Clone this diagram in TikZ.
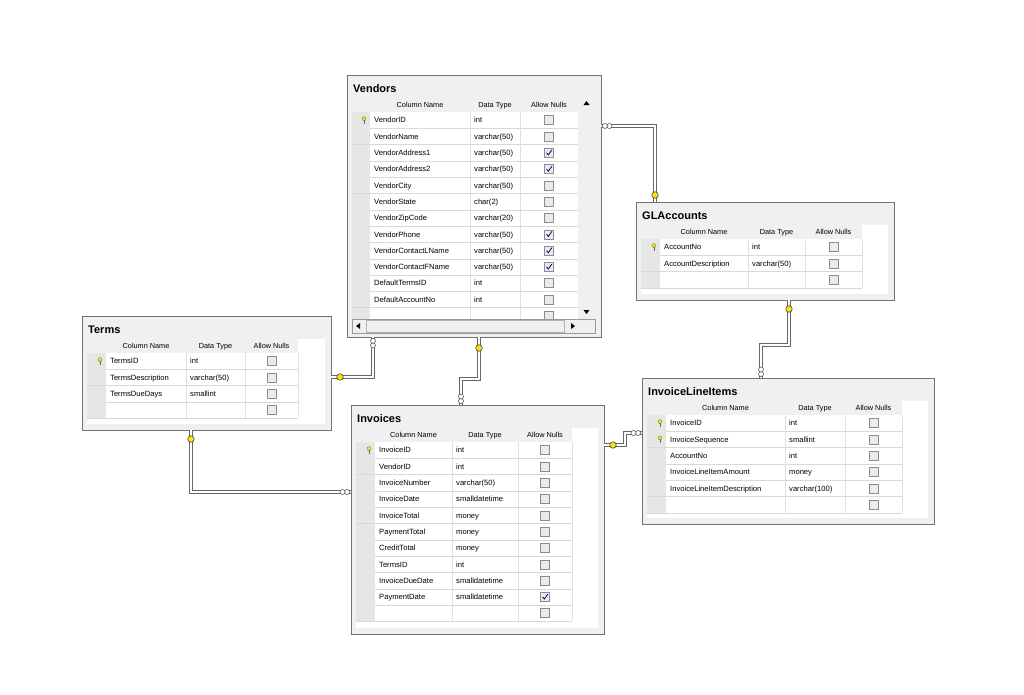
\documentclass[tikz,border=0pt]{standalone}
\usepackage{fontspec}
\setmainfont{Liberation Sans}
\usetikzlibrary{fit}
\definecolor{panelbg}{HTML}{F0F0F0}
\definecolor{cellgray}{HTML}{E6E6E6}
\tikzset{
  panel/.style={draw=black!55, fill=panelbg, line width=0.9pt, inner sep=0pt},
  cell/.style={font=\fontsize{7.6}{8}\selectfont, anchor=base west, inner sep=0pt},
  hdr/.style={font=\fontsize{7.3}{8}\selectfont, anchor=base, inner sep=0pt},
  ttl/.style={font=\bfseries\fontsize{11}{12}\selectfont, anchor=west, inner sep=0pt},
  conn/.style={draw=black!60, double=white, double distance=1.4pt, line width=1pt},
  fkey/.style={circle, draw=black!70, fill=yellow!85!orange, minimum size=6.5pt, inner sep=0pt, line width=0.6pt},
  inf/.style={circle, draw=black!65, fill=white, minimum size=5pt, inner sep=0pt, line width=0.6pt},
}
\newcommand\rowkey[2]{\fill[yellow!85!orange, draw=black!60, line width=0.3pt] (#1,#2-1.5) circle (2pt);
  \draw[black!60, line width=0.9pt] (#1,#2) -- (#1,#2+3.8);}
\newcommand\dbtab[9]{%
  \node[panel, fit={(#3,#4)(#5,#6)}] (#1) {};
  \node[ttl] at (#3+6,#4+14) {#2};
  \fill[white] (#3+5,#4+23) rectangle (#5-6,#6-6);
  \fill[cellgray!60] (#3+5,#4+23) rectangle (\cD,#4+37);
  \node[hdr] at ({(#7+#8)/2},#4+32.5) {Column Name};
  \node[hdr] at ({(#8+#9)/2},#4+32.5) {Data Type};
  \node[hdr] at ({(#9+\cD)/2},#4+32.5) {Allow Nulls};
  \foreach \kk/\nm/\ty/\ck [count=\i] in \rows {
    \pgfmathsetmacro\yt{#4+37+(\i-1)*16.3}
    \pgfmathsetmacro\yc{\yt+8.15}
    \fill[cellgray] (#3+5,\yt) rectangle (#7,\yt+16.3);
    \draw[black!15] (#3+5,\yt+16.3) -- (\cD,\yt+16.3);
    \draw[black!12] (#8,\yt) -- (#8,\yt+16.3) (#9,\yt) -- (#9,\yt+16.3) (\cD,\yt) -- (\cD,\yt+16.3);
    \ifnum\kk=1 \rowkey{#7-6}{\yc}\fi
    \node[cell] at (#7+4,\yc+2.8) {\nm};
    \node[cell] at (#8+4,\yc+2.8) {\ty};
    \pgfmathsetmacro\cx{(#9+\cD)/2}
    \draw[black!45, fill=black!8] (\cx-4.5,\yc-4.5) rectangle (\cx+4.5,\yc+4.5);
    \ifnum\ck=1 \draw[blue!60!black, line width=0.8pt] (\cx-2.5,\yc) -- (\cx-0.7,\yc+2.2) -- (\cx+2.8,\yc-2.8);\fi
  }
}
\begin{document}
\begin{tikzpicture}[x=1pt,y=-1pt]
\useasboundingbox (0,0) rectangle (1024,694);
\fill[white] (0,0) rectangle (1024,694);

% Vendors
\def\cD{578}
\def\rows{1/VendorID/int/0, 0/VendorName/varchar(50)/0, 0/VendorAddress1/varchar(50)/1, 0/VendorAddress2/varchar(50)/1, 0/VendorCity/varchar(50)/0, 0/VendorState/char(2)/0, 0/VendorZipCode/varchar(20)/0, 0/VendorPhone/varchar(50)/1, 0/VendorContactLName/varchar(50)/1, 0/VendorContactFName/varchar(50)/1, 0/DefaultTermsID/int/0, 0/DefaultAccountNo/int/0, 0/{}/{}/0}
\dbtab{vendors}{Vendors}{347}{75}{601}{337}{370}{470}{520}
\fill[white] (352,319) rectangle (596,333);
\fill[panelbg] (578,98) rectangle (595,319);
\fill[panelbg] (352,319) rectangle (595,333);
\draw[black!40] (352,319) rectangle (595,333);
\draw[black!30] (366,320) rectangle (564,332);
\fill[black] (356,326) -- (360,323) -- (360,329) -- cycle;
\fill[black] (575,326) -- (571,323) -- (571,329) -- cycle;
\fill[black] (586.5,101) -- (583.5,105) -- (589.5,105) -- cycle;
\fill[black] (586.5,314) -- (583.5,310) -- (589.5,310) -- cycle;

% Terms
\def\cD{298}
\def\rows{1/TermsID/int/0, 0/TermsDescription/varchar(50)/0, 0/TermsDueDays/smallint/0, 0/{}/{}/0}
\dbtab{terms}{Terms}{82}{316}{331}{430}{106}{186}{245}

% Invoices
\def\cD{572}
\def\rows{1/InvoiceID/int/0, 0/VendorID/int/0, 0/InvoiceNumber/varchar(50)/0, 0/InvoiceDate/smalldatetime/0, 0/InvoiceTotal/money/0, 0/PaymentTotal/money/0, 0/CreditTotal/money/0, 0/TermsID/int/0, 0/InvoiceDueDate/smalldatetime/0, 0/PaymentDate/smalldatetime/1, 0/{}/{}/0}
\dbtab{invoices}{Invoices}{351}{405}{604}{634}{375}{452}{518}

% GLAccounts
\def\cD{862}
\def\rows{1/AccountNo/int/0, 0/AccountDescription/varchar(50)/0, 0/{}/{}/0}
\dbtab{glaccounts}{GLAccounts}{636}{202}{894}{300}{660}{748}{805}

% InvoiceLineItems
\def\cD{902}
\def\rows{1/InvoiceID/int/0, 1/InvoiceSequence/smallint/0, 0/AccountNo/int/0, 0/InvoiceLineItemAmount/money/0, 0/InvoiceLineItemDescription/varchar(100)/0, 0/{}/{}/0}
\dbtab{ili}{InvoiceLineItems}{642}{378}{934}{524}{666}{785}{845}

% connector endpoints
\coordinate (v1) at (601,126); \coordinate (g1) at (655,202);
\coordinate (v2) at (373,337); \coordinate (t2) at (331,377);
\coordinate (v3) at (479,337); \coordinate (i3) at (461,405);
\coordinate (t4) at (191,430); \coordinate (i4) at (351,492);
\coordinate (g5) at (789,300); \coordinate (l5) at (761,378);
\coordinate (i6) at (604,445); \coordinate (l6) at (642,433);

\draw[conn] (v1) -- (655,126) -- (g1);
\draw[conn] (v2) -- (373,377) -- (t2);
\draw[conn] (v3) -- (479,379) -- (461,379) -- (i3);
\draw[conn] (t4) -- (191,492) -- (i4);
\draw[conn] (g5) -- (789,345) -- (761,345) -- (l5);
\draw[conn] (i6) -- (625,445) -- (625,433) -- (l6);

% end symbols
\node[inf] at (605,126) {}; \node[inf] at (609.5,126) {};
\node[fkey] at (655,195) {};
\node[inf] at (373,341) {}; \node[inf] at (373,345.5) {};
\node[fkey] at (340,377) {};
\node[fkey] at (479,348) {};
\node[inf] at (461,401) {}; \node[inf] at (461,396.5) {};
\node[fkey] at (191,439) {};
\node[inf] at (347,492) {}; \node[inf] at (342.5,492) {};
\node[fkey] at (789,309) {};
\node[inf] at (761,374) {}; \node[inf] at (761,369.5) {};
\node[fkey] at (613,445) {};
\node[inf] at (638,433) {}; \node[inf] at (633.5,433) {};
\end{tikzpicture}
\end{document}
